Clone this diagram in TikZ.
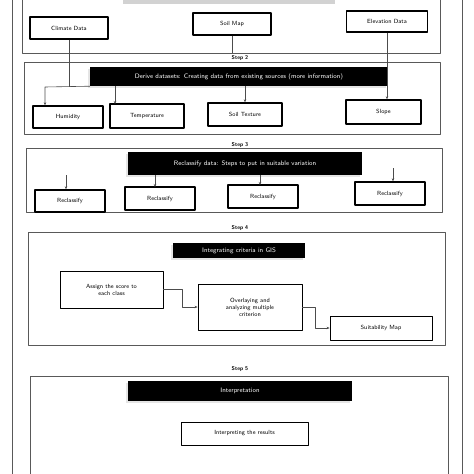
\documentclass[tikz,border=0pt]{standalone}
\usetikzlibrary{arrows.meta}
\tikzset{
  databox/.style={draw, line width=1.4pt, fill=white, inner sep=1pt, align=center},
  thinbox/.style={draw, line width=0.8pt, fill=white, inner sep=2pt, align=center},
  darkbar/.style={fill=black, text=white, inner sep=2pt, font=\fontsize{6.5}{7}\sffamily,
    drop shadow={fill=gray!40, shadow xshift=-2pt, shadow yshift=-2pt}},
  stepframe/.style={draw, line width=0.9pt, gray!70!black},
  steplabel/.style={font=\fontsize{5.5}{6}\sffamily\bfseries, inner sep=0.5pt},
  link/.style={line width=0.6pt, gray!60!black}
}
\usetikzlibrary{shadows}
\begin{document}
\begin{tikzpicture}[x=1pt, y=-1pt, font=\fontsize{6}{7}\sffamily, line join=round, >={Stealth[length=3pt,width=2.5pt]}]
\useasboundingbox (0,0) rectangle (474,474);
% outer frame
\draw[stepframe] (12,0) -- (12,474) (462,0) -- (462,474);
% step 1
\draw[stepframe] (22,-5) rectangle (440,53);
\fill[gray!35] (123,-2) rectangle (335,4);
\node[databox, minimum width=78pt, minimum height=22pt] (climate) at (69,28) {Climate Data};
\node[databox, minimum width=78pt, minimum height=22pt] (soilmap) at (232,24) {Soil Map};
\node[databox, minimum width=81pt, minimum height=21pt] (elev) at (387,21.5) {Elevation Data};
\draw[link] (soilmap.south) -- (soilmap.south |- 0,53);
% step 2
\node[steplabel] (s2) at (240,58) {Step 2};
\draw[stepframe] (24,62) rectangle (440,134);
\node[darkbar, minimum width=298pt, minimum height=19pt] (derive) at (239,76.5) {Derive datasets: Creating data from existing sources (more information)};
\node[databox, minimum width=70pt, minimum height=22pt] (humid) at (68,117) {Humidity};
\node[databox, minimum width=74pt, minimum height=24pt] (temp) at (147,116) {Temperature};
\node[databox, minimum width=74pt, minimum height=23pt] (texture) at (245,114.5) {Soil Texture};
\node[databox, minimum width=75pt, minimum height=24pt] (slope) at (383.5,112) {Slope};
\coordinate (hbend) at (45,87);
\draw[link] (climate.south) -- (climate.south |- hbend);
\draw[link,->] (derive.south west) -- (hbend) -- (hbend |- humid.north);
\draw[link,->] (115,86) -- (115,104);
\draw[link,->] (derive.south -| texture.north) -- (texture.north);
\draw[link,->] (elev.south) -- (elev.south |- slope.north);
% step 3
\node[steplabel] (s3) at (240,145) {Step 3};
\draw[stepframe] (26,148) rectangle (442,212);
\node[darkbar, minimum width=234pt, minimum height=23pt] (reclass) at (245,163.5) {Reclassify data: Steps to put in suitable variation};
\node[databox, minimum width=70pt, minimum height=22pt] (rc1) at (70,201) {Reclassify};
\node[databox, minimum width=70pt, minimum height=23pt] (rc2) at (160,198.5) {Reclassify};
\node[databox, minimum width=70pt, minimum height=23pt] (rc3) at (263,196.5) {Reclassify};
\node[databox, minimum width=70pt, minimum height=23pt] (rc4) at (390,193.5) {Reclassify};
\coordinate (rc1in) at (66,175);
\coordinate (rc4in) at (393,168);
\draw[link,->] (rc1in) -- (rc1in |- rc1.north);
\draw[link,->] (155,175) -- (155,187);
\draw[link,->] (260,175) -- (260,185);
\draw[link,->] (rc4in) -- (rc4in |- rc4.north);
% step 4
\node[steplabel] (s4) at (240,228) {Step 4};
\draw[stepframe] (28,232) rectangle (445,345);
\node[darkbar, minimum width=132pt, minimum height=15pt] (integ) at (239,250.5) {Integrating criteria in GIS};
\node[thinbox, minimum width=103pt, minimum height=37pt] (assign) at (111.5,289.5) {Assign the score to\\ each class};
\node[thinbox, minimum width=104pt, minimum height=46pt] (overlay) at (250,307) {Overlaying and\\ analyzing multiple\\ criterion};
\node[thinbox, minimum width=102pt, minimum height=24pt] (suit) at (381,328) {Suitability Map};
\draw[link,->] (assign.east) -- ++(19,0) |- (overlay.west);
\draw[link,->] (overlay.east) -- ++(13,0) |- (suit.west);
% step 5
\node[steplabel] (s5) at (240,369) {Step 5};
\draw[stepframe] (30,376) rectangle (448,480);
\node[darkbar, minimum width=224pt, minimum height=20pt] (interp) at (240,391) {Interpretation};
\node[thinbox, minimum width=127pt, minimum height=23pt] (results) at (244.5,433.5) {Interpreting the results};
\end{tikzpicture}
\end{document}
